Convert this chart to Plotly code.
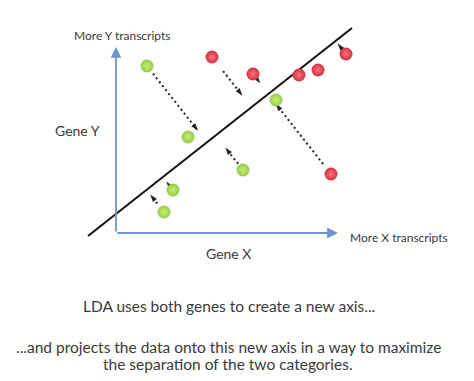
import numpy as np
import plotly.graph_objects as go

# Diagram frame: x from left, y from top (pixel-like units of the drawing)
green_x = [147, 188, 243, 173, 164, 276]
green_y = [66, 137, 170, 190, 212, 100]
red_x = [212, 253, 299, 318, 346, 331]
red_y = [57, 74, 75, 70, 54, 174]

# LDA axis end points
lda_x = [88, 352]
lda_y = [236, 28]

# Projection arrows: source point, fraction along point->projection where shaft starts/ends
arrow_src_x = [147, 212, 253, 331, 243, 173, 164, 346]
arrow_src_y = [66, 57, 74, 174, 170, 190, 212, 54]
arrow_start = [0.10, 0.28, 0.25, 0.125, 0.18, 0.30, 0.39, 0.36]
arrow_end = [0.85, 0.77, 0.47, 0.88, 0.65, 0.66, 0.79, 0.80]

# Gene axes
origin = (116, 233)
x_axis_end = 338
y_axis_end = 47

W, H = 474, 381
fig = go.Figure()

# LDA axis line
fig.add_trace(go.Scatter(x=lda_x, y=lda_y, mode="lines",
                         line=dict(color="#111111", width=2), hoverinfo="skip"))

# projection arrows
p0 = np.array([lda_x[0], lda_y[0]], float)
d = np.array([lda_x[1] - lda_x[0], lda_y[1] - lda_y[0]], float)
d /= np.linalg.norm(d)
head_x, head_y, head_ang = [], [], []
for sx, sy, fs, fe in zip(arrow_src_x, arrow_src_y, arrow_start, arrow_end):
    p = np.array([sx, sy], float)
    proj = p0 + d * np.dot(p - p0, d)
    a = p + (proj - p) * fs
    b = p + (proj - p) * fe
    u = (b - a) / np.linalg.norm(b - a)
    fig.add_trace(go.Scatter(x=[a[0], b[0] - u[0] * 2], y=[a[1], b[1] - u[1] * 2],
                             mode="lines",
                             line=dict(color="#222222", width=2, dash="2px,3px"),
                             hoverinfo="skip"))
    head_x.append(b[0])
    head_y.append(b[1])
    head_ang.append(float(np.degrees(np.arctan2(u[0], -u[1]))))

fig.add_trace(go.Scatter(x=head_x, y=head_y, mode="markers",
                         marker=dict(symbol="arrow", size=8, angle=head_ang,
                                     color="#222222", line=dict(width=0)),
                         hoverinfo="skip"))

annotations = []
# gene axes (blue arrows)
annotations.append(dict(x=x_axis_end, y=origin[1], ax=origin[0], ay=origin[1],
                        xref="x", yref="y", axref="x", ayref="y", showarrow=True,
                        arrowhead=2, arrowsize=1.2, arrowwidth=1.8,
                        arrowcolor="#6f96cc", text=""))
annotations.append(dict(x=origin[0], y=y_axis_end, ax=origin[0], ay=origin[1],
                        xref="x", yref="y", axref="x", ayref="y", showarrow=True,
                        arrowhead=2, arrowsize=1.2, arrowwidth=1.8,
                        arrowcolor="#6f96cc", text=""))

# points
fig.add_trace(go.Scatter(x=green_x, y=green_y, mode="markers",
                         marker=dict(size=13, color="#94cc40",
                                     gradient=dict(type="radial", color="#c9ee80"),
                                     line=dict(width=0)), hoverinfo="skip"))
fig.add_trace(go.Scatter(x=red_x, y=red_y, mode="markers",
                         marker=dict(size=13, color="#d6313f",
                                     gradient=dict(type="radial", color="#f37480"),
                                     line=dict(width=0)), hoverinfo="skip"))

font = "Lato, 'Open Sans', sans-serif"
txt = "#3a3a3a"
def label(x, y, t, size, anchor="center"):
    annotations.append(dict(x=x, y=y, xref="x", yref="y", text=t, showarrow=False,
                            xanchor=anchor, yanchor="middle",
                            font=dict(family=font, size=size, color=txt)))

label(72, 35, "More Y transcripts", 12, "left")
label(102, 130, "Gene Y", 14, "right")
label(228, 253, "Gene X", 14)
label(348, 237, "More X transcripts", 12, "left")
label(229, 306, "LDA uses both genes to create a new axis...", 15.5)
label(228, 347, "...and projects the data onto this new axis in a way to maximize", 15.5)
label(228, 364, "the separation of the two categories.", 15.5)

fig.update_layout(
    width=W, height=H, margin=dict(l=0, r=0, t=0, b=0),
    paper_bgcolor="white", plot_bgcolor="white", showlegend=False,
    xaxis=dict(range=[0, W], visible=False, fixedrange=True),
    yaxis=dict(range=[H, 0], visible=False, fixedrange=True),
    annotations=annotations,
)
fig.write_html("out.html", config={"displayModeBar": False},
               post_script="document.body.style.margin='0';document.body.style.overflow='hidden';")
